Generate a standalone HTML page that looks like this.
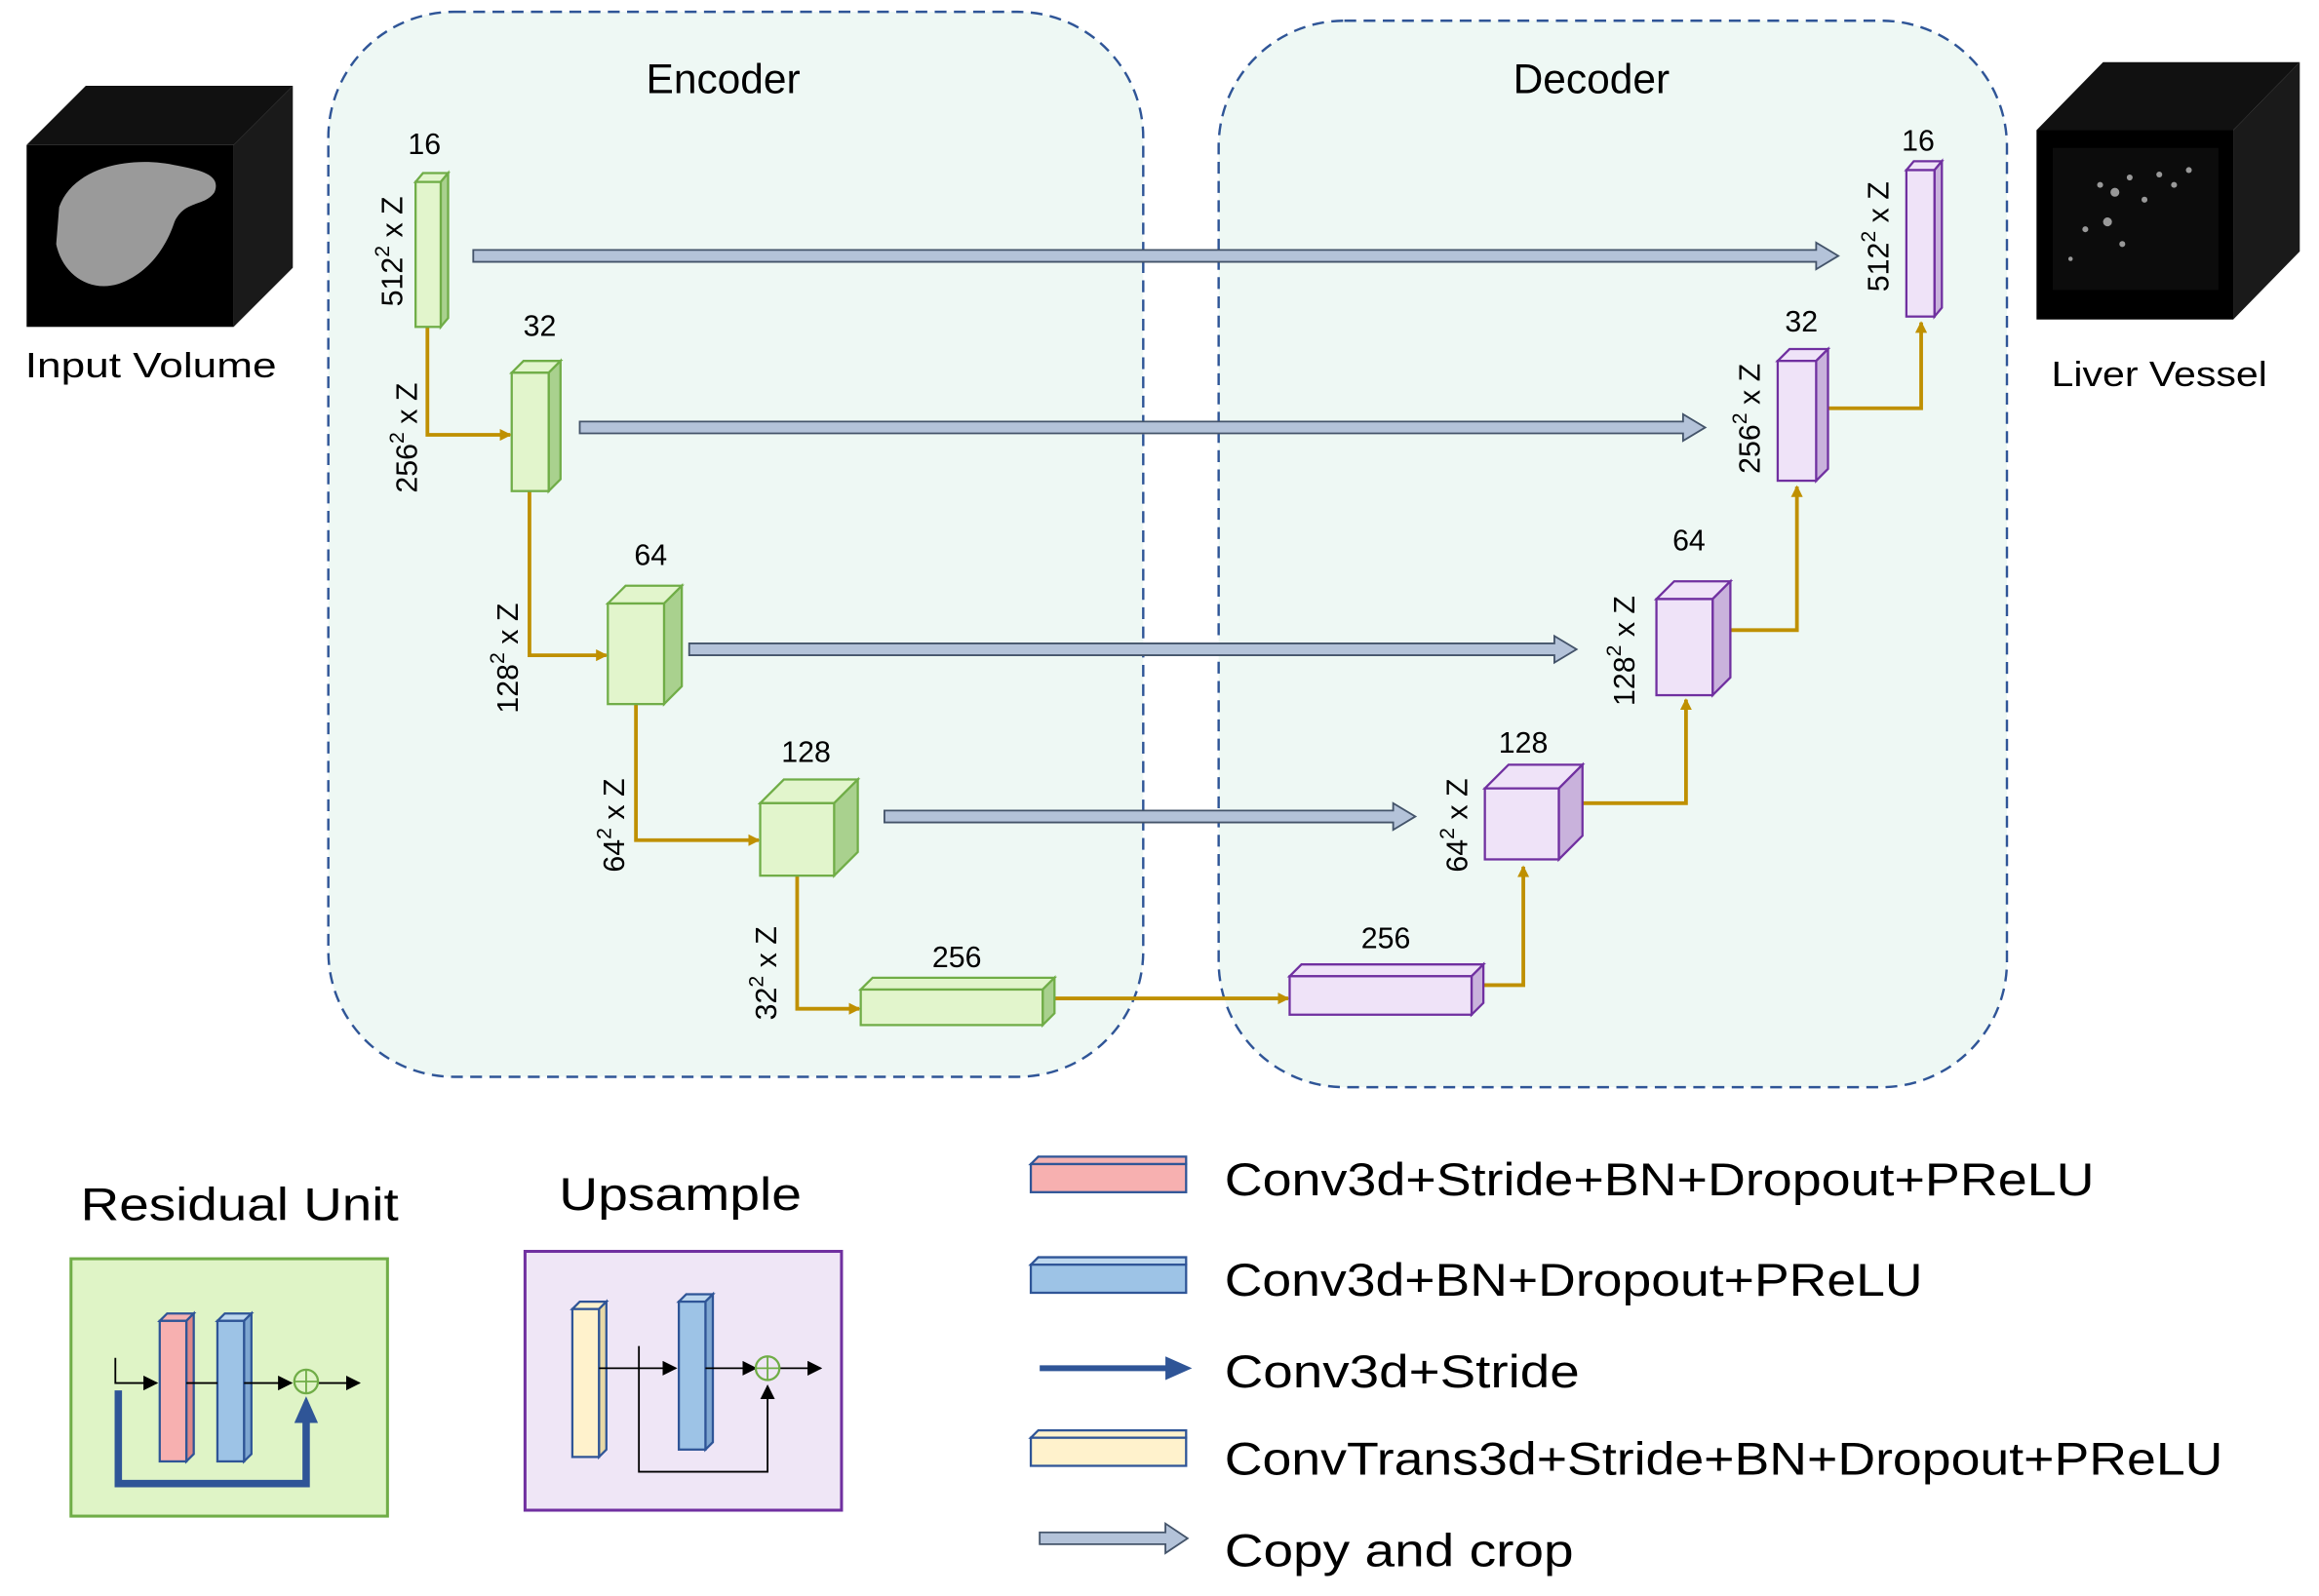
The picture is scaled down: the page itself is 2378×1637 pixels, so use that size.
<!DOCTYPE html>
<html><head><meta charset="utf-8"><style>
html,body{margin:0;padding:0;background:#fff;}
svg{display:block;font-family:"Liberation Sans",sans-serif;}
</style></head><body>
<svg width="2378" height="1637" viewBox="0 0 1568 1079" preserveAspectRatio="none" xmlns="http://www.w3.org/2000/svg">
<defs>
<marker id="ao" markerWidth="8" markerHeight="8" refX="7" refY="4" orient="auto" markerUnits="userSpaceOnUse"><path d="M0,0 L8,4 L0,8 z" fill="#bf9000"/></marker>
<marker id="ak" markerWidth="10" markerHeight="10" refX="9" refY="5" orient="auto" markerUnits="userSpaceOnUse"><path d="M0,0 L10,5 L0,10 z" fill="#000"/></marker>
</defs>
<rect width="1568" height="1079" fill="#fff"/>
<rect x="222" y="8" width="551" height="720" rx="85" fill="#eef8f4" stroke="#2f5597" stroke-width="1.6" stroke-dasharray="8,5"/>
<rect x="824" y="14" width="533" height="721" rx="85" fill="#eef8f4" stroke="#2f5597" stroke-width="1.6" stroke-dasharray="8,5"/>
<text x="489" y="63" font-size="28" text-anchor="middle">Encoder</text>
<text x="1076" y="63" font-size="28" text-anchor="middle">Decoder</text>

<polygon points="18,98 58,58 198,58 158,98" fill="#111"/>
<polygon points="158,98 198,58 198,181 158,221" fill="#1a1a1a"/>
<rect x="18" y="98" width="140" height="123" fill="#000"/>
<path d="M40,140 C50,112 90,105 120,112 C135,115 150,118 145,130 C138,140 125,135 118,150 C112,168 100,185 80,192 C60,198 42,185 38,165 Z" fill="#9a9a9a"/>
<text x="102" y="255" font-size="24" text-anchor="middle" textLength="170" lengthAdjust="spacingAndGlyphs">Input Volume</text>
<polygon points="1377,88 1422,42 1555,42 1510,88" fill="#111"/>
<polygon points="1510,88 1555,42 1555,170 1510,216" fill="#1a1a1a"/>
<rect x="1377" y="88" width="133" height="128" fill="#000"/>
<rect x="1388" y="100" width="112" height="96" fill="#0c0c0c"/>
<g fill="#999"><circle cx="1420" cy="125" r="2"/><circle cx="1430" cy="130" r="3"/><circle cx="1440" cy="120" r="2"/><circle cx="1460" cy="118" r="2"/><circle cx="1470" cy="125" r="2"/><circle cx="1480" cy="115" r="2"/><circle cx="1410" cy="155" r="2"/><circle cx="1425" cy="150" r="3"/><circle cx="1400" cy="175" r="1.5"/><circle cx="1435" cy="165" r="2"/><circle cx="1450" cy="135" r="2"/></g>
<text x="1460" y="261" font-size="24" text-anchor="middle" textLength="146" lengthAdjust="spacingAndGlyphs">Liver Vessel</text>

<g fill="#b4c3d9" stroke="#44546a" stroke-width="1.2">
<path d="M320,169 H1228 V164 L1243,173 L1228,182 V177 H320 Z"/>
<path d="M392,285 H1138 V280 L1153,289 L1138,298 V293 H392 Z"/>
<path d="M466,435 H1051 V430 L1066,439 L1051,448 V443 H466 Z"/>
<path d="M598,548 H942 V543 L957,552 L942,561 V556 H598 Z"/>
</g>

<g fill="none" stroke="#bf9000" stroke-width="2.5" marker-end="url(#ao)">
<path d="M289,221 V294 H345"/>
<path d="M358,332 V443 H410"/>
<path d="M430,476 V568 H513"/>
<path d="M539,592 V682 H581"/>
<path d="M710,675 H871"/>
<path d="M1000,666 H1030 V586"/>
<path d="M1070,543 H1140 V473"/>
<path d="M1170,426 H1215 V329"/>
<path d="M1234,276 H1299 V218"/>
</g>

<g fill="#e2f5cc" stroke="#70ad47" stroke-width="1.5">
<polygon points="281,123 286,117 303,117 298,123"/><polygon points="298,123 303,117 303,215 298,221" fill="#a9d18e"/><rect x="281" y="123" width="17" height="98"/>
<polygon points="346,252 354,244 379,244 371,252"/><polygon points="371,252 379,244 379,324 371,332" fill="#a9d18e"/><rect x="346" y="252" width="25" height="80"/>
<polygon points="411,408 423,396 461,396 449,408"/><polygon points="449,408 461,396 461,464 449,476" fill="#a9d18e"/><rect x="411" y="408" width="38" height="68"/>
<polygon points="514,543 530,527 580,527 564,543"/><polygon points="564,543 580,527 580,576 564,592" fill="#a9d18e"/><rect x="514" y="543" width="50" height="49"/>
<polygon points="582,669 590,661 713,661 705,669"/><polygon points="705,669 713,661 713,685 705,693" fill="#a9d18e"/><rect x="582" y="669" width="123" height="24"/>
</g>
<g fill="#efe3f8" stroke="#7030a0" stroke-width="1.5">
<polygon points="872,660 880,652 1003,652 995,660"/><polygon points="995,660 1003,652 1003,678 995,686" fill="#c9b2dc"/><rect x="872" y="660" width="123" height="26"/>
<polygon points="1004,533 1020,517 1070,517 1054,533"/><polygon points="1054,533 1070,517 1070,565 1054,581" fill="#c9b2dc"/><rect x="1004" y="533" width="50" height="48"/>
<polygon points="1120,405 1132,393 1170,393 1158,405"/><polygon points="1158,405 1170,393 1170,458 1158,470" fill="#c9b2dc"/><rect x="1120" y="405" width="38" height="65"/>
<polygon points="1202,244 1210,236 1236,236 1228,244"/><polygon points="1228,244 1236,236 1236,317 1228,325" fill="#c9b2dc"/><rect x="1202" y="244" width="26" height="81"/>
<polygon points="1289,115 1294,109 1313,109 1308,115"/><polygon points="1308,115 1313,109 1313,208 1308,214" fill="#c9b2dc"/><rect x="1289" y="115" width="19" height="99"/>
</g>

<g font-size="20" text-anchor="middle">
<text x="287" y="104">16</text><text x="365" y="227">32</text><text x="440" y="382">64</text><text x="545" y="515">128</text><text x="647" y="654">256</text>
<text x="937" y="641">256</text><text x="1030" y="509">128</text><text x="1142" y="372">64</text><text x="1218" y="224">32</text><text x="1297" y="102">16</text>
</g>
<g font-size="20" text-anchor="middle">
<text transform="translate(272,170) rotate(-90)">512<tspan dy="-9" font-size="14">2</tspan><tspan dy="9"> x Z</tspan></text>
<text transform="translate(282,296) rotate(-90)">256<tspan dy="-9" font-size="14">2</tspan><tspan dy="9"> x Z</tspan></text>
<text transform="translate(350,445) rotate(-90)">128<tspan dy="-9" font-size="14">2</tspan><tspan dy="9"> x Z</tspan></text>
<text transform="translate(422,558) rotate(-90)">64<tspan dy="-9" font-size="14">2</tspan><tspan dy="9"> x Z</tspan></text>
<text transform="translate(525,658) rotate(-90)">32<tspan dy="-9" font-size="14">2</tspan><tspan dy="9"> x Z</tspan></text>
<text transform="translate(992,558) rotate(-90)">64<tspan dy="-9" font-size="14">2</tspan><tspan dy="9"> x Z</tspan></text>
<text transform="translate(1105,440) rotate(-90)">128<tspan dy="-9" font-size="14">2</tspan><tspan dy="9"> x Z</tspan></text>
<text transform="translate(1190,283) rotate(-90)">256<tspan dy="-9" font-size="14">2</tspan><tspan dy="9"> x Z</tspan></text>
<text transform="translate(1277,160) rotate(-90)">512<tspan dy="-9" font-size="14">2</tspan><tspan dy="9"> x Z</tspan></text>
</g>

<!-- Residual unit -->
<text x="162" y="825" font-size="31" text-anchor="middle" textLength="215" lengthAdjust="spacingAndGlyphs">Residual Unit</text>
<rect x="48" y="851" width="214" height="174" fill="#dff4c6" stroke="#70ad47" stroke-width="2"/>
<g stroke="#2f5597" stroke-width="1.5">
<polygon points="108,893 113,888 131,888 126,893" fill="#f4b1b1"/><polygon points="126,893 131,888 131,983 126,988" fill="#d88"/><rect x="108" y="893" width="18" height="95" fill="#f7b0b0"/>
<polygon points="147,893 152,888 170,888 165,893" fill="#bdd7ee"/><polygon points="165,893 170,888 170,983 165,988" fill="#7ea6d0"/><rect x="147" y="893" width="18" height="95" fill="#9dc3e6"/>
</g>
<path d="M80,940 V1003 H207 V960" fill="none" stroke="#2f5597" stroke-width="5"/>
<polygon points="199,962 215,962 207,944" fill="#2f5597"/>
<g stroke="#000" stroke-width="1.2" fill="none">
<path d="M78,918 V935 H106" marker-end="url(#ak)"/>
<path d="M126,935 H147"/>
<path d="M165,935 H197" marker-end="url(#ak)"/>
<path d="M215,935 H243" marker-end="url(#ak)"/>
</g>
<circle cx="207" cy="934" r="8" fill="none" stroke="#70ad47" stroke-width="1.5"/>
<path d="M199,934 H215 M207,926 V942" stroke="#70ad47" stroke-width="1.2"/>

<!-- Upsample -->
<text x="460" y="818" font-size="31" text-anchor="middle" textLength="164" lengthAdjust="spacingAndGlyphs">Upsample</text>
<rect x="355" y="846" width="214" height="175" fill="#efe6f6" stroke="#7030a0" stroke-width="2"/>
<g stroke="#2f5597" stroke-width="1.5">
<polygon points="387,885 392,880 410,880 405,885" fill="#fff2cc"/><polygon points="405,885 410,880 410,980 405,985" fill="#e8d9a6"/><rect x="387" y="885" width="18" height="100" fill="#fff2cc"/>
<polygon points="459,880 464,875 482,875 477,880" fill="#bdd7ee"/><polygon points="477,880 482,875 482,975 477,980" fill="#7ea6d0"/><rect x="459" y="880" width="18" height="100" fill="#9dc3e6"/>
</g>
<g stroke="#000" stroke-width="1.2" fill="none">
<path d="M405,925 H457" marker-end="url(#ak)"/>
<path d="M432,910 V995 H519 V937" marker-end="url(#ak)"/>
<path d="M477,925 H511" marker-end="url(#ak)"/>
<path d="M527,925 H555" marker-end="url(#ak)"/>
</g>
<circle cx="519" cy="925" r="8" fill="none" stroke="#70ad47" stroke-width="1.5"/>
<path d="M511,925 H527 M519,917 V933" stroke="#70ad47" stroke-width="1.2"/>

<!-- Legend -->
<g stroke="#2f5597" stroke-width="1.5">
<polygon points="697,787 702,782 802,782 802,787" fill="#f4b1b1"/><rect x="697" y="787" width="105" height="19" fill="#f7b0b0"/>
<polygon points="697,855 702,850 802,850 802,855" fill="#bdd7ee"/><rect x="697" y="855" width="105" height="19" fill="#9dc3e6"/>
<polygon points="697,972 702,967 802,967 802,972" fill="#fff2cc"/><rect x="697" y="972" width="105" height="19" fill="#fff2cc"/>
</g>
<line x1="703" y1="925" x2="790" y2="925" stroke="#2f5597" stroke-width="4"/>
<polygon points="788,917 806,925 788,933" fill="#2f5597"/>
<path d="M703,1036 H788 V1030 L803,1040 L788,1050 V1044 H703 Z" fill="#b4c3d9" stroke="#44546a" stroke-width="1.2"/>
<g font-size="31">
<text x="828" y="808" textLength="588" lengthAdjust="spacingAndGlyphs">Conv3d+Stride+BN+Dropout+PReLU</text>
<text x="828" y="876" textLength="472" lengthAdjust="spacingAndGlyphs">Conv3d+BN+Dropout+PReLU</text>
<text x="828" y="938" textLength="240" lengthAdjust="spacingAndGlyphs">Conv3d+Stride</text>
<text x="828" y="997" textLength="675" lengthAdjust="spacingAndGlyphs">ConvTrans3d+Stride+BN+Dropout+PReLU</text>
<text x="828" y="1059" textLength="236" lengthAdjust="spacingAndGlyphs">Copy and crop</text>
</g>
</svg>
</body></html>
